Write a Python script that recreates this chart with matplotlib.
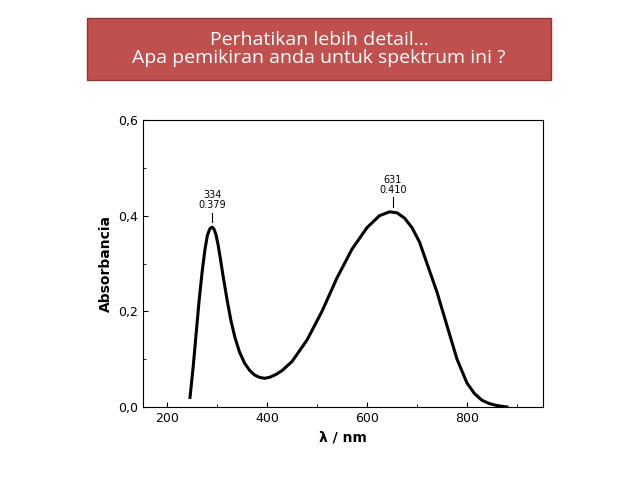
import matplotlib
matplotlib.use('Agg')
import matplotlib.pyplot as plt
from matplotlib.patches import Rectangle

# ── Data ─────────────────────────────────────────────────────────────────────
wavelength = [246, 252, 258, 264, 270, 276, 281, 286, 290, 294, 298, 302, 306,
              312, 320, 328, 336, 345, 355, 365, 375, 385, 395, 405, 418, 430,
              450, 480, 510, 540, 570, 600, 625, 645, 660, 675, 690, 705, 720,
              740, 760, 780, 800, 815, 830, 845, 860, 880]
absorbance = [0.02, 0.08, 0.15, 0.22, 0.28, 0.33, 0.36, 0.373, 0.376, 0.372,
              0.36, 0.34, 0.315, 0.275, 0.225, 0.18, 0.145, 0.115, 0.092,
              0.077, 0.067, 0.062, 0.06, 0.062, 0.068, 0.076, 0.095, 0.14,
              0.20, 0.27, 0.33, 0.375, 0.400, 0.408, 0.406, 0.395, 0.375,
              0.345, 0.30, 0.24, 0.17, 0.10, 0.05, 0.028, 0.014, 0.007, 0.003,
              0.0]
peaks = [(290, 0.376, '334\n0.379'), (652, 0.408, '631\n0.410')]
title_lines = 'Perhatikan lebih detail…\nApa pemikiran anda untuk spektrum ini ?'

fig = plt.figure(figsize=(6.38, 4.78), dpi=100)

# ── Title box ────────────────────────────────────────────────────────────────
fig.patches.append(Rectangle((87 / 638, 1 - 80 / 478), 464 / 638, 62 / 478,
                             transform=fig.transFigure, facecolor='#c0504d',
                             edgecolor='#8c3836', linewidth=1))
fig.text(319 / 638, 1 - 49 / 478, title_lines, ha='center', va='center',
         color='white', fontsize=14, family='Open Sans', linespacing=1.05)

# ── Spectrum ─────────────────────────────────────────────────────────────────
ax = fig.add_axes([143 / 638, 1 - 407 / 478, 400 / 638, 287 / 478])
ax.plot(wavelength, absorbance, color='black', linewidth=2.2)
ax.set_xlim(152, 952)
ax.set_ylim(0, 0.6)
ax.set_xticks([200, 400, 600, 800])
ax.set_yticks([0, 0.2, 0.4, 0.6])
ax.set_yticklabels(['0,0', '0,2', '0,4', '0,6'])
ax.set_xticks([300, 500, 700, 900], minor=True)
ax.set_yticks([0.1, 0.3, 0.5], minor=True)
ax.tick_params(direction='in', labelsize=9, top=False, right=False)
ax.tick_params(which='minor', direction='in', length=2)
ax.set_xlabel('λ / nm', fontsize=10, fontweight='bold')
ax.set_ylabel('Absorbancia', fontsize=10, fontweight='bold')

for x, y, label in peaks:
    ax.plot([x, x], [y + 0.01, y + 0.03], color='black', linewidth=0.8)
    ax.text(x, y + 0.035, label, ha='center', va='bottom', fontsize=7,
            linespacing=1.0)

fig.savefig('out.png', dpi=100)
